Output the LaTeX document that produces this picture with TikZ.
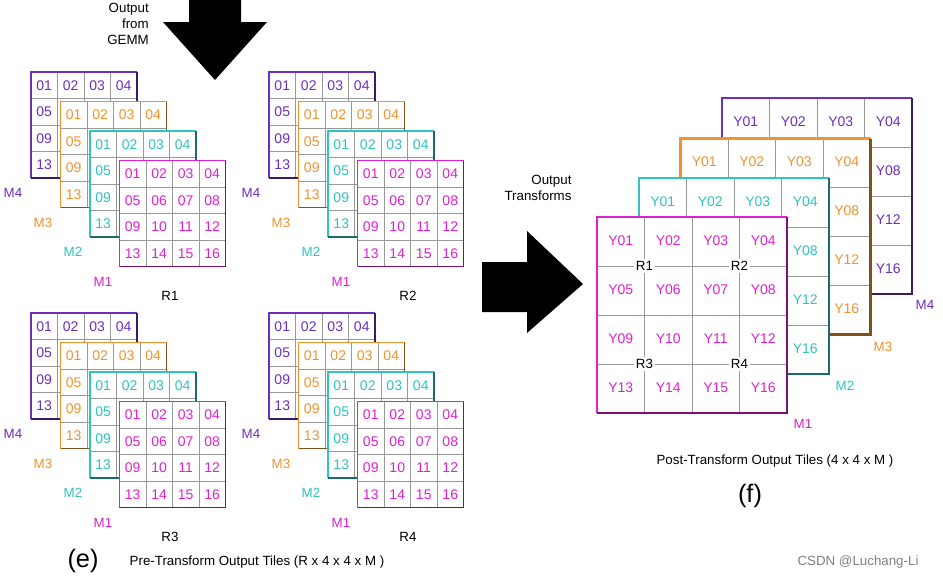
\documentclass[tikz,border=0pt]{standalone}
\usepackage{fontspec}
\setmainfont{Liberation Sans}
\definecolor{cA}{HTML}{E020D0}
\definecolor{cB}{HTML}{2EC4C0}
\definecolor{cC}{HTML}{F0922E}
\definecolor{cD}{HTML}{6B2FBF}
\tikzset{
  cell/.style={font=\fontsize{10.5}{12}\selectfont},
  grid line/.style={draw=gray!80, line width=0.6pt},
  lbl/.style={font=\fontsize{10}{12}\selectfont},
  big arrow/.style={fill=black}
}
% #4 = 1 full labels, 0 top row + left column only
\newcommand\tileS[4]{%
  \fill[white] (#1,#2) rectangle ++(106,106);
  \foreach \i in {1,2,3}{\draw[grid line] ({#1+26.5*\i},#2) -- ++(0,106);
    \draw[grid line] (#1,{#2+26.5*\i}) -- ++(106,0);}
  \foreach \r in {0,...,3}{\foreach \c in {0,...,3}{%
    \pgfmathtruncatemacro\n{\r*4+\c+1}%
    \pgfmathtruncatemacro\show{or(#4==1,or(\r==0,\c==0))}%
    \ifnum\show=1
    \node[cell,text=#3] at ({#1+26.5*\c+13.25},{#2+26.5*\r+13.5}) {\ifnum\n<10 0\fi\n};\fi}}
  \draw[#3,line width=1.4pt] (#1,{#2+106}) -- (#1,#2) -- ({#1+106},#2);
  \draw[#3!55!black,line width=1.4pt] ({#1+106},#2) -- ({#1+106},{#2+106}) -- (#1,{#2+106});
}
\newcommand\groupS[3]{% x y name
  \tileS{#1}{#2}{cD}{0}
  \tileS{#1+29.5}{#2+29.5}{cC}{0}
  \tileS{#1+59}{#2+59}{cB}{0}
  \tileS{#1+88.5}{#2+88.5}{cA}{1}
  \node[lbl,text=cD] at ({#1-18},{#2+121}) {M4};
  \node[lbl,text=cC] at ({#1+12},{#2+151}) {M3};
  \node[lbl,text=cB] at ({#1+42},{#2+180}) {M2};
  \node[lbl,text=cA] at ({#1+72},{#2+210}) {M1};
  \node[lbl] at ({#1+139},{#2+224}) {#3};
}
% #4 = 1 full labels, 0 top row + right column only
\newcommand\tileL[4]{%
  \fill[white] (#1,#2) rectangle ++(190,196);
  \foreach \i in {1,2,3}{\draw[grid line] ({#1+47.5*\i},#2) -- ++(0,196);
    \draw[grid line] (#1,{#2+49*\i}) -- ++(190,0);}
  \foreach \r in {0,...,3}{\foreach \c in {0,...,3}{%
    \pgfmathtruncatemacro\n{\r*4+\c+1}%
    \pgfmathtruncatemacro\show{or(#4==1,or(\r==0,\c==3))}%
    \ifnum\show=1
    \node[cell,text=#3] at ({#1+47.5*\c+23.75},{#2+49*\r+23.5}) {Y\ifnum\n<10 0\fi\n};\fi}}
  \draw[#3,line width=1.6pt] (#1,{#2+196}) -- (#1,#2) -- ({#1+190},#2);
  \draw[#3!55!black,line width=1.6pt] ({#1+190},#2) -- ({#1+190},{#2+196}) -- (#1,{#2+196});
}
\begin{document}
\begin{tikzpicture}[x=0.75pt,y=-0.75pt]
\useasboundingbox[fill=white] (0,0) rectangle (943,578);
% top arrow
\fill[big arrow] (189,0) -- (241,0) -- (241,22) -- (267,22) -- (215,80) -- (163,22) -- (189,22) -- cycle;
\node[lbl,align=right] at (128,24) {Output\\from\\GEMM};
\groupS{31}{72}{R1}
\groupS{269}{72}{R2}
\groupS{31}{313}{R3}
\groupS{269}{313}{R4}
% right arrow
\fill[big arrow] (482,262) -- (527,262) -- (527,231) -- (583,284) -- (527,333) -- (527,312) -- (482,312) -- cycle;
\node[lbl,align=right] at (538,188) {Output\\Transforms};
\tileL{722}{98}{cD}{0}
\tileL{680.5}{138.5}{cC}{0}
\tileL{639}{178}{cB}{0}
\tileL{597}{217}{cA}{1}
\foreach \x/\y/\t in {644.5/266/R1,739.5/266/R2,644.5/364/R3,739.5/364/R4}
  \node[lbl,fill=white,inner sep=1.5pt] at (\x,\y) {\t};
\node[lbl,text=cD] at (925,305) {M4};
\node[lbl,text=cC] at (883,347) {M3};
\node[lbl,text=cB] at (845,386) {M2};
\node[lbl,text=cA] at (803,424) {M1};
\node[lbl] at (775,461) {Post-Transform Output Tiles (4 x 4 x M )};
\node[font=\fontsize{19}{22}\selectfont] at (750,496) {(f)};
\node[font=\fontsize{19}{22}\selectfont] at (83,561) {(e)};
\node[lbl] at (257,562) {Pre-Transform Output Tiles (R x 4 x 4 x M )};
\node[lbl,text=gray] at (858,562) {CSDN @Luchang-Li};
\end{tikzpicture}
\end{document}
